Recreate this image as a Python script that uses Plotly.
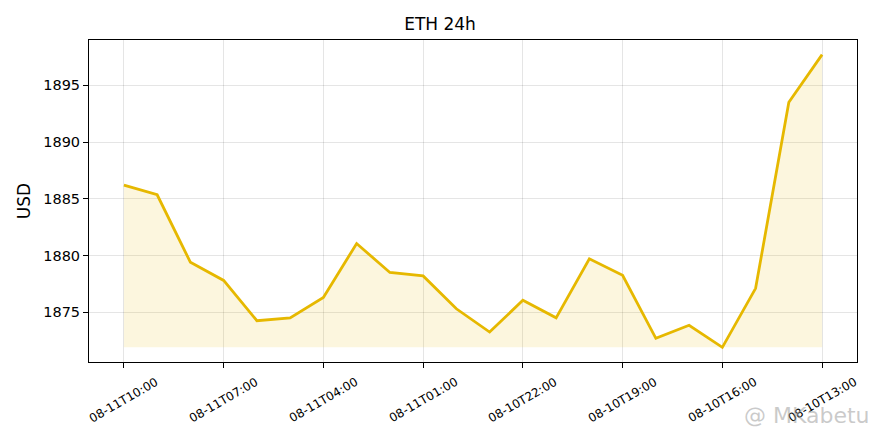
import plotly.graph_objects as go

# hourly ETH price, newest first (as in the source chart)
times = ['08-11T10:00', '08-11T09:00', '08-11T08:00', '08-11T07:00', '08-11T06:00', '08-11T05:00',
         '08-11T04:00', '08-11T03:00', '08-11T02:00', '08-11T01:00', '08-11T00:00', '08-10T23:00',
         '08-10T22:00', '08-10T21:00', '08-10T20:00', '08-10T19:00', '08-10T18:00', '08-10T17:00',
         '08-10T16:00', '08-10T15:00', '08-10T14:00', '08-10T13:00']
prices = [1886.2, 1885.35, 1879.4, 1877.8, 1874.25, 1874.5, 1876.3, 1881.05, 1878.5, 1878.2,
          1875.3, 1873.25, 1876.05, 1874.5, 1879.7, 1878.25, 1872.7, 1873.85, 1871.9, 1877.1,
          1893.5, 1897.7]

idx = list(range(len(times)))
tick_idx = idx[::3]
tick_txt = times[::3]
base = min(prices)

fig = go.Figure()

# shaded area down to the lowest price
fig.add_trace(go.Scatter(x=idx, y=[base] * len(idx), mode='lines', line=dict(width=0),
                         hoverinfo='skip', showlegend=False))
fig.add_trace(go.Scatter(x=idx, y=prices, mode='lines', fill='tonexty',
                         fillcolor='rgba(230,184,0,0.13)',
                         line=dict(color='#e6b800', width=2.8), showlegend=False))

pad = (max(prices) - base) * 0.05
# page body has an 8px margin, so the figure is a bit smaller than the window
fig.update_layout(
    width=864, height=424,
    paper_bgcolor='white', plot_bgcolor='white',
    margin=dict(l=81, r=15, t=32, b=70),
    font=dict(family='DejaVu Sans', color='black', size=14.5),
    title=dict(text='ETH 24h', x=0.5, xanchor='center', y=0.962, yanchor='middle', font=dict(size=17)),
    xaxis=dict(range=[-1.05, len(idx) - 1 + 1.05], tickmode='array', tickvals=tick_idx,
               showticklabels=False, ticks='outside', ticklen=5, tickcolor='black',
               showgrid=True, gridcolor='rgba(0,0,0,0.1)', zeroline=False,
               showline=True, linecolor='black', linewidth=1, mirror=True),
    yaxis=dict(range=[base - pad, max(prices) + pad], dtick=5, ticks='outside', ticklen=5, tickcolor='black',
               title=dict(text='USD', standoff=8), showgrid=True, gridcolor='rgba(0,0,0,0.1)', zeroline=False,
               showline=True, linecolor='black', linewidth=1, mirror=True),
)

# rotated tick labels centred under each tick (matplotlib style)
for xi, txt in zip(tick_idx, tick_txt):
    fig.add_annotation(text=txt, x=xi, xref='x', y=-0.03, yref='paper', textangle=-30,
                       xanchor='center', yanchor='top', showarrow=False, font=dict(size=12))

fig.add_annotation(text='@ MKabetu', xref='paper', yref='paper', x=1.02, y=-0.165,
                   xanchor='right', yanchor='middle', showarrow=False,
                   font=dict(size=22, color='rgba(150,150,150,0.5)'))

fig.write_html("out.html")
